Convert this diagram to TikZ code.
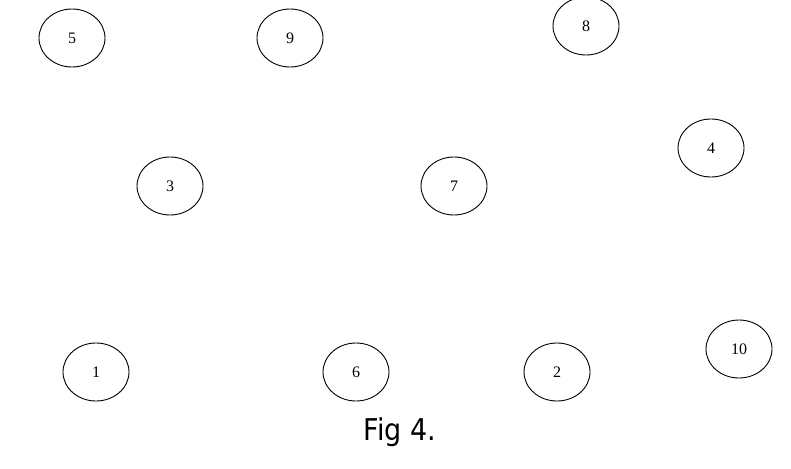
\documentclass[tikz,border=0pt]{standalone}
\usepackage{fontspec}
\setmainfont{Liberation Serif}
\newfontfamily\capfont{DejaVu Sans Condensed}
\usetikzlibrary{shapes.geometric}
\begin{document}
\begin{tikzpicture}[x=1pt,y=-1pt,
  vtx/.style={draw,ellipse,minimum width=66pt,minimum height=58pt,inner sep=0pt,line width=0.9pt,font=\fontsize{16}{16}\selectfont}]
\useasboundingbox (0,0) rectangle (791,468);
\node[vtx] (n5) at (72,38) {5};
\node[vtx] (n9) at (290,38) {9};
\node[vtx] (n8) at (586,26) {8};
\node[vtx] (n4) at (711,148) {4};
\node[vtx] (n3) at (170,186) {3};
\node[vtx] (n7) at (454,186) {7};
\node[vtx] (n1) at (96,372) {1};
\node[vtx] (n6) at (356,372) {6};
\node[vtx] (n2) at (557,372) {2};
\node[vtx] (n10) at (739,349) {10};
\node[font=\capfont\fontsize{30}{30}\selectfont] (cap) at (400,432) {Fig 4.};
\end{tikzpicture}
\end{document}
